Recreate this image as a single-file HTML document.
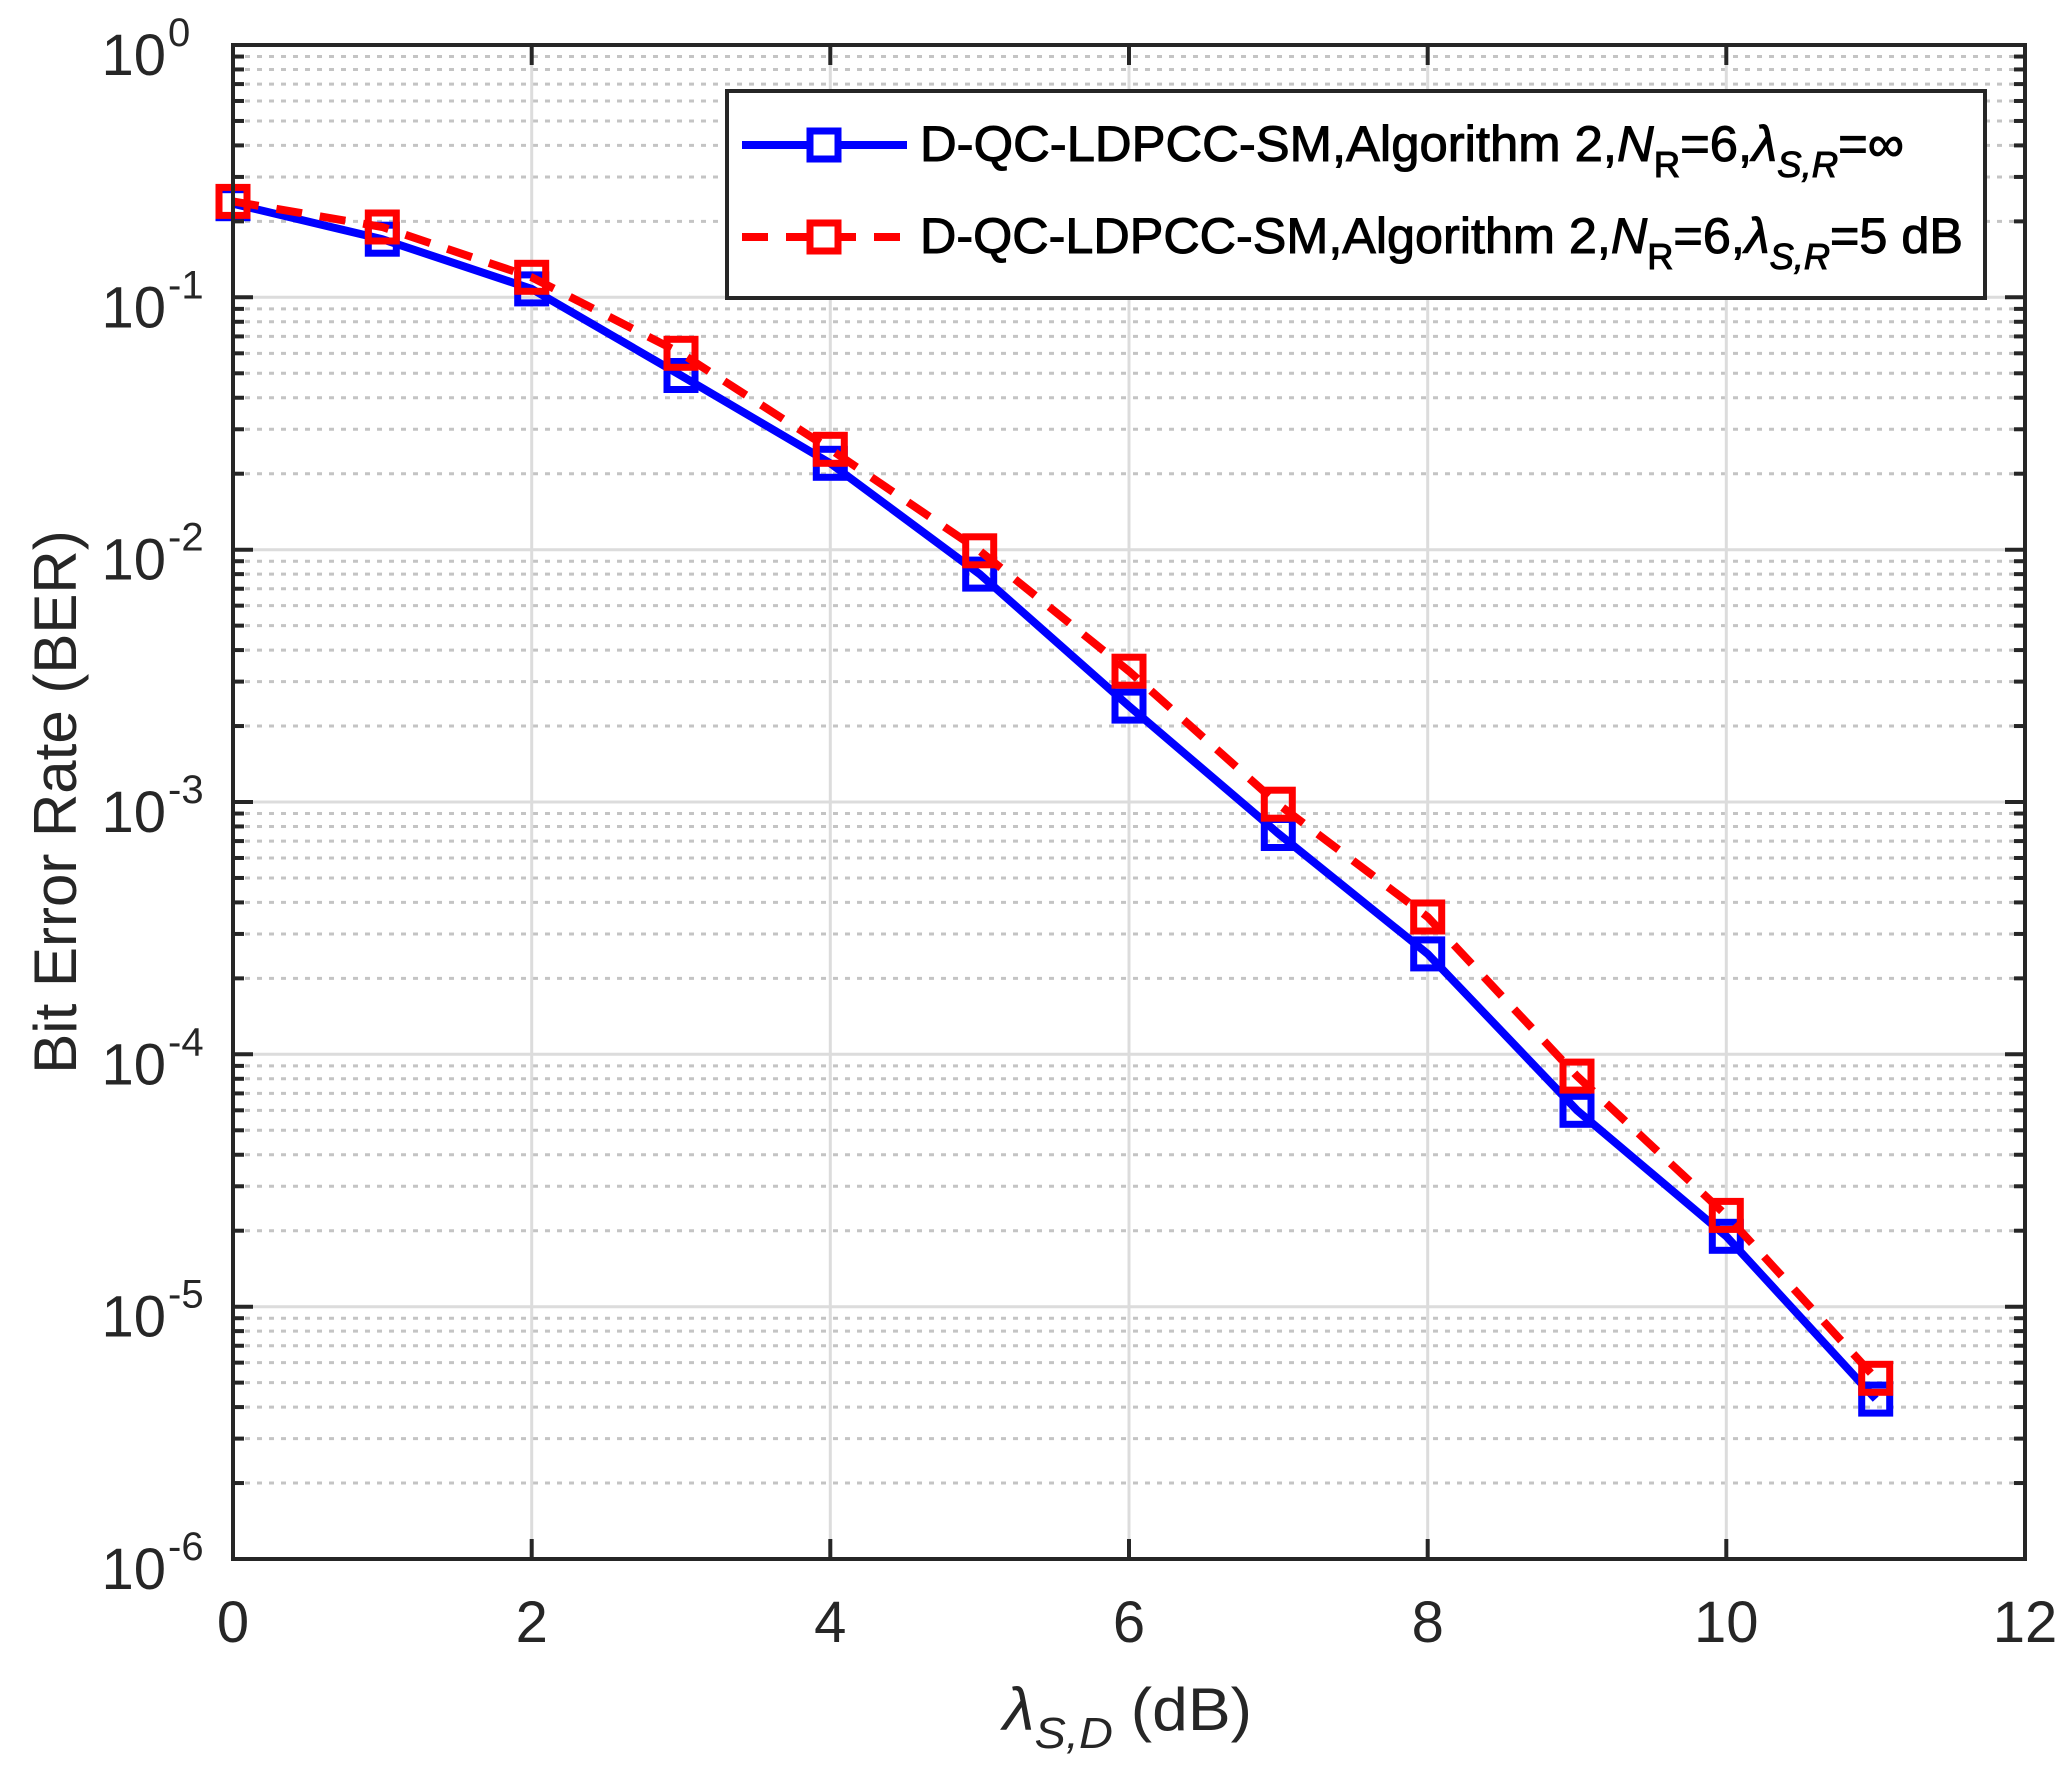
<!DOCTYPE html>
<html><head><meta charset="utf-8"><style>body{margin:0;background:#fff}svg{display:block}</style></head>
<body>
<svg xmlns="http://www.w3.org/2000/svg" width="2063" height="1782" viewBox="0 0 2063 1782" font-family="Liberation Sans, Arial, sans-serif">
<defs>
<g id="minor">
<line x1="233" x2="2025" y1="-75.96" y2="-75.96"/>
<line x1="233" x2="2025" y1="-120.39" y2="-120.39"/>
<line x1="233" x2="2025" y1="-151.92" y2="-151.92"/>
<line x1="233" x2="2025" y1="-176.37" y2="-176.37"/>
<line x1="233" x2="2025" y1="-196.35" y2="-196.35"/>
<line x1="233" x2="2025" y1="-213.25" y2="-213.25"/>
<line x1="233" x2="2025" y1="-227.88" y2="-227.88"/>
<line x1="233" x2="2025" y1="-240.78" y2="-240.78"/>
</g>
<g id="mtl">
<line x1="233" x2="244" y1="-75.96" y2="-75.96"/><line x1="2025" x2="2014" y1="-75.96" y2="-75.96"/>
<line x1="233" x2="244" y1="-120.39" y2="-120.39"/><line x1="2025" x2="2014" y1="-120.39" y2="-120.39"/>
<line x1="233" x2="244" y1="-151.92" y2="-151.92"/><line x1="2025" x2="2014" y1="-151.92" y2="-151.92"/>
<line x1="233" x2="244" y1="-176.37" y2="-176.37"/><line x1="2025" x2="2014" y1="-176.37" y2="-176.37"/>
<line x1="233" x2="244" y1="-196.35" y2="-196.35"/><line x1="2025" x2="2014" y1="-196.35" y2="-196.35"/>
<line x1="233" x2="244" y1="-213.25" y2="-213.25"/><line x1="2025" x2="2014" y1="-213.25" y2="-213.25"/>
<line x1="233" x2="244" y1="-227.88" y2="-227.88"/><line x1="2025" x2="2014" y1="-227.88" y2="-227.88"/>
<line x1="233" x2="244" y1="-240.78" y2="-240.78"/><line x1="2025" x2="2014" y1="-240.78" y2="-240.78"/>
</g>
</defs>
<rect width="2063" height="1782" fill="#fff"/>
<g stroke="#c4c4c4" stroke-width="3" stroke-dasharray="5 7">
<use href="#minor" transform="translate(0,297.33)"/>
<use href="#minor" transform="translate(0,549.67)"/>
<use href="#minor" transform="translate(0,802)"/>
<use href="#minor" transform="translate(0,1054.33)"/>
<use href="#minor" transform="translate(0,1306.67)"/>
<use href="#minor" transform="translate(0,1559)"/>
</g>
<g stroke="#dcdcdc" stroke-width="3">
<line x1="233" x2="2025" y1="297.3" y2="297.3"/>
<line x1="233" x2="2025" y1="549.7" y2="549.7"/>
<line x1="233" x2="2025" y1="802" y2="802"/>
<line x1="233" x2="2025" y1="1054.3" y2="1054.3"/>
<line x1="233" x2="2025" y1="1306.7" y2="1306.7"/>
<line x1="531.7" x2="531.7" y1="45" y2="1559"/>
<line x1="830.3" x2="830.3" y1="45" y2="1559"/>
<line x1="1129" x2="1129" y1="45" y2="1559"/>
<line x1="1427.7" x2="1427.7" y1="45" y2="1559"/>
<line x1="1726.3" x2="1726.3" y1="45" y2="1559"/>
</g>
<polyline fill="none" stroke="#0000ff" stroke-width="8" points="233,203.7 382.3,239.2 531.7,288.9 681,375.5 830.3,463.3 979.7,574.1 1129,706.1 1278.3,833.5 1427.7,953.9 1577,1110.3 1726.3,1236.3 1875.7,1399.1"/>
<g fill="none" stroke="#0000ff" stroke-width="7">
<rect x="219" y="189.7" width="28" height="28"/><rect x="368.3" y="225.2" width="28" height="28"/><rect x="517.7" y="274.9" width="28" height="28"/><rect x="667" y="361.5" width="28" height="28"/><rect x="816.3" y="449.3" width="28" height="28"/><rect x="965.7" y="560.1" width="28" height="28"/><rect x="1115" y="692.1" width="28" height="28"/><rect x="1264.3" y="819.5" width="28" height="28"/><rect x="1413.7" y="939.9" width="28" height="28"/><rect x="1563" y="1096.3" width="28" height="28"/><rect x="1712.3" y="1222.3" width="28" height="28"/><rect x="1861.7" y="1385.1" width="28" height="28"/>
</g>
<polyline fill="none" stroke="#ff0000" stroke-width="8" stroke-dasharray="26 18" points="233,201.4 382.3,227 531.7,277.3 681,353.3 830.3,449.3 979.7,550.8 1129,671.2 1278.3,804.2 1427.7,917 1577,1076.1 1726.3,1215.4 1875.7,1378.3"/>
<g fill="none" stroke="#ff0000" stroke-width="7">
<rect x="219" y="187.4" width="28" height="28"/><rect x="368.3" y="213" width="28" height="28"/><rect x="517.7" y="263.3" width="28" height="28"/><rect x="667" y="339.3" width="28" height="28"/><rect x="816.3" y="435.3" width="28" height="28"/><rect x="965.7" y="536.8" width="28" height="28"/><rect x="1115" y="657.2" width="28" height="28"/><rect x="1264.3" y="790.2" width="28" height="28"/><rect x="1413.7" y="903" width="28" height="28"/><rect x="1563" y="1062.1" width="28" height="28"/><rect x="1712.3" y="1201.4" width="28" height="28"/><rect x="1861.7" y="1364.3" width="28" height="28"/>
</g>
<rect x="233" y="45" width="1792" height="1514" fill="none" stroke="#262626" stroke-width="4"/>
<g stroke="#262626" stroke-width="4">
<use href="#mtl" transform="translate(0,297.33)"/>
<use href="#mtl" transform="translate(0,549.67)"/>
<use href="#mtl" transform="translate(0,802)"/>
<use href="#mtl" transform="translate(0,1054.33)"/>
<use href="#mtl" transform="translate(0,1306.67)"/>
<use href="#mtl" transform="translate(0,1559)"/>
<line x1="233" x2="253" y1="297.3" y2="297.3"/><line x1="2025" x2="2005" y1="297.3" y2="297.3"/>
<line x1="233" x2="253" y1="549.7" y2="549.7"/><line x1="2025" x2="2005" y1="549.7" y2="549.7"/>
<line x1="233" x2="253" y1="802" y2="802"/><line x1="2025" x2="2005" y1="802" y2="802"/>
<line x1="233" x2="253" y1="1054.3" y2="1054.3"/><line x1="2025" x2="2005" y1="1054.3" y2="1054.3"/>
<line x1="233" x2="253" y1="1306.7" y2="1306.7"/><line x1="2025" x2="2005" y1="1306.7" y2="1306.7"/>
<line x1="531.7" x2="531.7" y1="1559" y2="1539"/><line x1="531.7" x2="531.7" y1="45" y2="65"/>
<line x1="830.3" x2="830.3" y1="1559" y2="1539"/><line x1="830.3" x2="830.3" y1="45" y2="65"/>
<line x1="1129" x2="1129" y1="1559" y2="1539"/><line x1="1129" x2="1129" y1="45" y2="65"/>
<line x1="1427.7" x2="1427.7" y1="1559" y2="1539"/><line x1="1427.7" x2="1427.7" y1="45" y2="65"/>
<line x1="1726.3" x2="1726.3" y1="1559" y2="1539"/><line x1="1726.3" x2="1726.3" y1="45" y2="65"/>
</g>
<g font-size="58" fill="#262626" text-anchor="middle">
<text x="233" y="1642">0</text><text x="531.7" y="1642">2</text><text x="830.3" y="1642">4</text><text x="1129" y="1642">6</text><text x="1427.7" y="1642">8</text><text x="1726.3" y="1642">10</text><text x="2025" y="1642">12</text>
</g>
<g fill="#262626">
<text x="166" y="75" font-size="58" text-anchor="end">10</text><text x="168" y="46" font-size="40">0</text>
<text x="166" y="327.3" font-size="58" text-anchor="end">10</text><text x="168" y="298.3" font-size="40">-1</text>
<text x="166" y="579.7" font-size="58" text-anchor="end">10</text><text x="168" y="550.7" font-size="40">-2</text>
<text x="166" y="832" font-size="58" text-anchor="end">10</text><text x="168" y="803" font-size="40">-3</text>
<text x="166" y="1084.3" font-size="58" text-anchor="end">10</text><text x="168" y="1055.3" font-size="40">-4</text>
<text x="166" y="1336.7" font-size="58" text-anchor="end">10</text><text x="168" y="1307.7" font-size="40">-5</text>
<text x="166" y="1589" font-size="58" text-anchor="end">10</text><text x="168" y="1560" font-size="40">-6</text>
</g>
<text transform="translate(76,802) rotate(-90)" font-size="60" text-anchor="middle" fill="#262626">Bit Error Rate (BER)</text>
<text x="1003" y="1730" font-size="60" fill="#262626" textLength="249" lengthAdjust="spacingAndGlyphs"><tspan font-style="italic">λ</tspan><tspan font-size="44" font-style="italic" dy="18">S,D</tspan><tspan dy="-18"> (dB)</tspan></text>
<rect x="727" y="91" width="1258" height="207" fill="#fff" stroke="#262626" stroke-width="4"/>
<line x1="742" x2="907" y1="145" y2="145" stroke="#0000ff" stroke-width="8"/>
<rect x="810" y="131" width="28" height="28" fill="#fff" stroke="#0000ff" stroke-width="7"/>
<line x1="742" x2="907" y1="237" y2="237" stroke="#ff0000" stroke-width="8" stroke-dasharray="26 18"/>
<rect x="810" y="223" width="28" height="28" fill="#fff" stroke="#ff0000" stroke-width="7"/>
<text x="920" y="161" font-size="50" fill="#000" stroke="#000" stroke-width="1" textLength="984" lengthAdjust="spacingAndGlyphs">D-QC-LDPCC-SM,Algorithm 2,<tspan font-style="italic">N</tspan><tspan font-size="36" dy="16">R</tspan><tspan dy="-16">=6,</tspan><tspan font-style="italic">λ</tspan><tspan font-size="36" font-style="italic" dy="16">S,R</tspan><tspan dy="-16">=∞</tspan></text>
<text x="920" y="253" font-size="50" fill="#000" stroke="#000" stroke-width="1" textLength="1043" lengthAdjust="spacingAndGlyphs">D-QC-LDPCC-SM,Algorithm 2,<tspan font-style="italic">N</tspan><tspan font-size="36" dy="16">R</tspan><tspan dy="-16">=6,</tspan><tspan font-style="italic">λ</tspan><tspan font-size="36" font-style="italic" dy="16">S,R</tspan><tspan dy="-16">=5 dB</tspan></text>
</svg>
</body></html>
